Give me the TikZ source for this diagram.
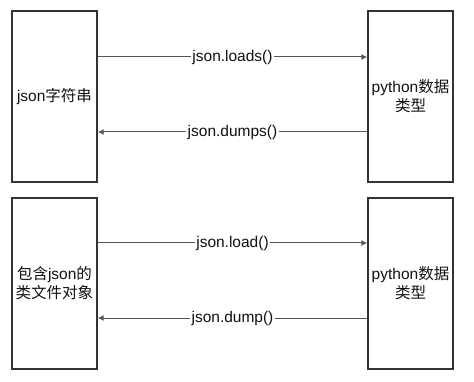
\documentclass[tikz,border=0pt]{standalone}
\usepackage{fontspec}
\setmainfont{Liberation Sans}
\newfontfamily\cjk{Noto Sans CJK SC}
\usetikzlibrary{arrows.meta, positioning}
\usepackage{xcolor}
\definecolor{cBox}{HTML}{333333}
\definecolor{cLine}{HTML}{555555}
\definecolor{cText}{HTML}{111111}

\begin{document}
\begin{tikzpicture}[x=1pt, y=-1pt,
    box/.style={draw=cBox, line width=1.4pt, minimum width=85pt, minimum height=171pt,
                align=center, text=cText, font=\fontsize{15.5}{19}\selectfont, inner sep=2pt},
    conn/.style={draw=cLine, line width=1pt, -{Latex[length=6pt,width=6pt]}},
    lbl/.style={midway, fill=white, inner sep=1.5pt, text=cText, font=\fontsize{15.5}{19}\selectfont}]
  \useasboundingbox (0,0) rectangle (474,382);

  % Upper pair: strings
  \node[box] (jstr) at (54.5,96.5) {json{\cjk 字符串}};
  \node[box] (pytop) at (410.5,96.5) {python{\cjk 数据}\\{\cjk 类型}};

  % Lower pair: file objects
  \node[box] (jfile) at (54.5,283.5) {{\cjk 包含}json{\cjk 的}\\{\cjk 类文件对象}};
  \node[box] (pybot) at (410.5,283.5) {python{\cjk 数据}\\{\cjk 类型}};

  % Connectors
  \draw[conn] ([yshift=39.5pt]jstr.east) -- ([yshift=39.5pt]pytop.west)
    node[lbl] (loads) {json.loads()};
  \draw[conn] ([yshift=-35.5pt]pytop.west) -- ([yshift=-35.5pt]jstr.east)
    node[lbl] (dumps) {json.dumps()};
  \draw[conn] ([yshift=40.5pt]jfile.east) -- ([yshift=40.5pt]pybot.west)
    node[lbl] (load) {json.load()};
  \draw[conn] ([yshift=-34.5pt]pybot.west) -- ([yshift=-34.5pt]jfile.east)
    node[lbl] (dump) {json.dump()};
\end{tikzpicture}
\end{document}
